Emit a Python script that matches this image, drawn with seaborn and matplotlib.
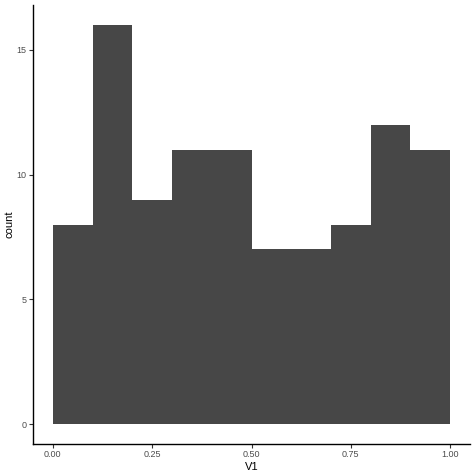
import matplotlib
matplotlib.use("Agg")
import matplotlib.pyplot as plt
import seaborn as sns

# histogram data
bin_edges = [0.0, 0.1, 0.2, 0.3, 0.4, 0.5, 0.6, 0.7, 0.8, 0.9, 1.0]
bin_centers = [0.05, 0.15, 0.25, 0.35, 0.45, 0.55, 0.65, 0.75, 0.85, 0.95]
counts = [8, 16, 9, 11, 11, 7, 7, 8, 12, 11]
x_ticks = [0.0, 0.25, 0.5, 0.75, 1.0]
x_tick_labels = ["0.00", "0.25", "0.50", "0.75", "1.00"]
y_ticks = [0, 5, 10, 15]

sns.set_style("white")
plt.rcParams['font.family'] = ['Liberation Sans', 'DejaVu Sans']

fig = plt.figure(figsize=(4.74, 4.74), dpi=100)
ax = fig.add_axes([33 / 474, 30 / 474, 437 / 474, 439 / 474])

# one filled step polygon, so no seams show between bars
sns.histplot(x=bin_centers, weights=counts, bins=bin_edges, element="step",
             fill=True, color="#474747", alpha=1, linewidth=0, ax=ax)

ax.set_xlim(-0.05, 1.05)
ax.set_ylim(-0.8, 16.8)
ax.set_xticks(x_ticks)
ax.set_xticklabels(x_tick_labels)
ax.set_yticks(y_ticks)
ax.tick_params(axis="both", length=3, width=0.8, color="#333333",
               labelsize=6.5, labelcolor="#4d4d4d", pad=1.5, direction="out",
               bottom=True, left=True)
ax.set_xlabel("V1", fontsize=8, color="black")
ax.set_ylabel("count", fontsize=8, color="black")
ax.xaxis.set_label_coords(0.5, -0.053)
ax.yaxis.set_label_coords(-0.053, 0.5)
ax.xaxis.label.set_va("center")
ax.yaxis.label.set_va("center")
for side in ["top", "right"]:
    ax.spines[side].set_visible(False)
for side in ["left", "bottom"]:
    ax.spines[side].set_color("black")
    ax.spines[side].set_linewidth(1)

fig.savefig("out.png", dpi=100)
